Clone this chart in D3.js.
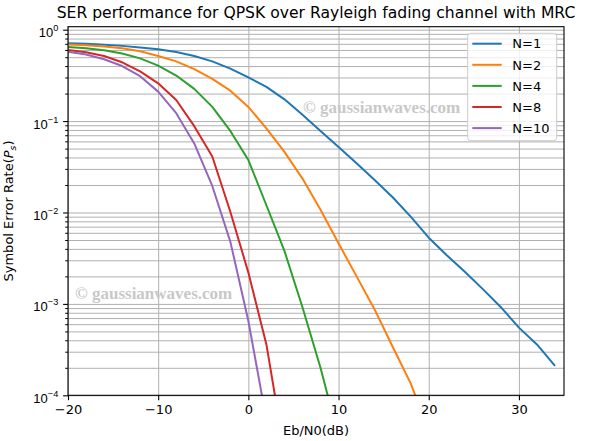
<!DOCTYPE html>
<html>
<head>
<meta charset="utf-8">
<script src="https://cdn.jsdelivr.net/npm/d3@7"></script>
<style>
  body { margin: 0; background: #fff; }
  svg { display: block; font-family: "DejaVu Sans", sans-serif; }
</style>
</head>
<body>
<div id="chart"></div>
<script>
// Eb/N0 points (dB)
const ebn0 = [-20, -18, -16, -14, -12, -10, -8, -6, -4, -2, 0, 2, 4, 6, 8, 10,
  12, 14, 16, 18, 20, 22, 24, 26, 28, 30, 32, 34];

// SER, one array per number of branches
const serN1 = [0.71, 0.70, 0.685, 0.665, 0.64, 0.61, 0.57, 0.515, 0.45, 0.375,
  0.30, 0.237, 0.173, 0.117, 0.078, 0.052, 0.0345, 0.0227, 0.0147, 0.009,
  0.0053, 0.0034, 0.00225, 0.00145, 0.00092, 0.00055, 0.00036, 0.00021];
const serN2 = [0.69, 0.675, 0.655, 0.625, 0.58, 0.515, 0.45, 0.37, 0.29, 0.215,
  0.143, 0.0834, 0.046, 0.0235, 0.0107, 0.0046, 0.0020, 0.00087, 0.00034,
  0.000135, 0.000041];
const serN4 = [0.645, 0.625, 0.595, 0.55, 0.485, 0.405, 0.315, 0.225, 0.143,
  0.078, 0.0375, 0.012, 0.0038, 0.00092, 0.0002, 0.000035];
const serN8 = [0.60, 0.565, 0.515, 0.44, 0.35, 0.259, 0.17, 0.088, 0.041,
  0.0102, 0.0022, 0.00036, 0.000024];
const serN10 = [0.575, 0.535, 0.475, 0.40, 0.31, 0.21, 0.122, 0.057, 0.0195,
  0.0048, 0.00065, 0.000054];

const seriesNames = ["N=1", "N=2", "N=4", "N=8", "N=10"];
const seriesValues = [serN1, serN2, serN4, serN8, serN10];
const seriesColors = ["#1f77b4", "#ff7f0e", "#2ca02c", "#d62728", "#9467bd"];

const xTicks = [-20, -10, 0, 10, 20, 30];
const yTicks = [1e-4, 1e-3, 1e-2, 1e-1, 1];
const yTickExp = ["\u22124", "\u22123", "\u22122", "\u22121", "0"];

const titleText = "SER performance for QPSK over Rayleigh fading channel with MRC";
const watermark = "\u00a9 gaussianwaves.com";

const fullWidth = 596;
const fullHeight = 441;
const margin = { top: 26.7, right: 32, bottom: 45.7, left: 68 };
const width = fullWidth - margin.left - margin.right;
const height = fullHeight - margin.top - margin.bottom;

const svgRoot = d3
  .select("#chart")
  .append("svg")
  .attr("width", fullWidth)
  .attr("height", fullHeight);

svgRoot.append("rect")
  .attr("width", fullWidth)
  .attr("height", fullHeight)
  .attr("fill", "#fff");

const svg = svgRoot.append("g")
  .attr("transform", `translate(${margin.left}, ${margin.top})`);

const xScale = d3.scaleLinear().domain([-20, 35]).range([0, width]);
const yScale = d3.scaleLog().domain([1e-4, 1.078]).range([height, 0]);

// minor ticks 2..9 in every decade
const minorTicks = [];
yTicks.slice(0, -1).forEach(d => {
  for (let k = 2; k <= 9; k++) minorTicks.push(k * d);
});

const gridColor = "#b0b0b0";

// grid: x major, y major + minor
svg.append("g")
  .attr("transform", `translate(0, ${height})`)
  .call(d3.axisBottom(xScale).tickValues(xTicks).tickSize(-height).tickFormat(""))
  .call(g => g.select(".domain").remove())
  .call(g => g.selectAll("line").attr("stroke", gridColor).attr("stroke-width", 1));

svg.append("g")
  .call(d3.axisLeft(yScale).tickValues(yTicks.concat(minorTicks)).tickSize(-width).tickFormat(""))
  .call(g => g.select(".domain").remove())
  .call(g => g.selectAll("line").attr("stroke", gridColor).attr("stroke-width", 1));

// watermarks
const wm = [[303, 113], [75, 299]];
svgRoot.selectAll("text.wm")
  .data(wm)
  .enter()
  .append("text")
  .attr("class", "wm")
  .attr("x", d => d[0])
  .attr("y", d => d[1])
  .attr("font-family", "'Liberation Serif', serif")
  .attr("font-weight", "bold")
  .attr("font-size", 17)
  .attr("fill", "#c8c8c8")
  .text(watermark);

// curves
svg.append("clipPath")
  .attr("id", "plotClip")
  .append("rect")
  .attr("width", width)
  .attr("height", height);

const line = d3.line()
  .x(d => xScale(d[0]))
  .y(d => yScale(d[1]));

svg.append("g")
  .attr("clip-path", "url(#plotClip)")
  .selectAll("path")
  .data(seriesValues)
  .enter()
  .append("path")
  .attr("fill", "none")
  .attr("stroke", (d, i) => seriesColors[i])
  .attr("stroke-width", 2)
  .attr("stroke-linejoin", "round")
  .attr("d", vals => line(vals.map((v, i) => [ebn0[i], v])));

// axes
const xAxis = svg.append("g")
  .attr("transform", `translate(0, ${height})`)
  .call(d3.axisBottom(xScale).tickValues(xTicks).tickSize(4.9).tickPadding(4.5));

const yAxis = svg.append("g")
  .call(d3.axisLeft(yScale).tickValues(yTicks).tickSize(4.9).tickFormat(""));

svg.append("g")
  .call(d3.axisLeft(yScale).tickValues(minorTicks).tickSize(2.8).tickFormat(""))
  .call(g => g.select(".domain").remove());

[xAxis, yAxis].forEach(g => {
  g.selectAll("text").attr("font-size", 13).attr("fill", "#000")
    .attr("font-family", "'DejaVu Sans', sans-serif");
  g.selectAll("line").attr("stroke", "#000").attr("stroke-width", 1.1);
  g.select(".domain").remove();
});

yAxis.selectAll(".tick").each(function (d, i) {
  const t = d3.select(this).append("text")
    .attr("x", -9.7)
    .attr("y", 7)
    .attr("text-anchor", "end")
    .attr("font-size", 13)
    .attr("fill", "#000");
  t.append("tspan").text("10");
  t.append("tspan").attr("dy", -6).attr("font-size", 9.2).text(yTickExp[i]);
});

// frame
svg.append("rect")
  .attr("width", width)
  .attr("height", height)
  .attr("fill", "none")
  .attr("stroke", "#000")
  .attr("stroke-width", 1.1);

// legend
const legend = svg.append("g").attr("transform", `translate(${467.7 - margin.left}, ${33.3 - margin.top})`);
legend.append("rect")
  .attr("width", 89)
  .attr("height", 107.4)
  .attr("rx", 3)
  .attr("fill", "#fff")
  .attr("fill-opacity", 0.8)
  .attr("stroke", "#cccccc")
  .attr("stroke-width", 1);

const entries = legend.selectAll("g.entry")
  .data(seriesNames)
  .enter()
  .append("g")
  .attr("class", "entry")
  .attr("transform", (d, i) => `translate(0, ${10.4 + i * 21.1})`);
entries.append("line")
  .attr("x1", 4.6).attr("x2", 34)
  .attr("stroke", (d, i) => seriesColors[i])
  .attr("stroke-width", 2);
entries.append("text")
  .attr("x", 44.6)
  .attr("y", 4.7)
  .attr("font-size", 13)
  .text(d => d);

// titles
svgRoot.append("text")
  .attr("x", margin.left + width / 2)
  .attr("y", 18)
  .attr("text-anchor", "middle")
  .attr("font-size", 15.6)
  .text(titleText);

svgRoot.append("text")
  .attr("x", margin.left + width / 2)
  .attr("y", 435)
  .attr("text-anchor", "middle")
  .attr("font-size", 13)
  .text("Eb/N0(dB)");

const ylab = svgRoot.append("text")
  .attr("transform", `translate(13.3, ${margin.top + height / 2}) rotate(-90)`)
  .attr("text-anchor", "middle")
  .attr("font-size", 13);
ylab.append("tspan").text("Symbol Error Rate(");
ylab.append("tspan").attr("font-style", "italic").text("P");
ylab.append("tspan").attr("font-style", "italic").attr("font-size", 9.2).attr("dy", 2.5).text("s");
ylab.append("tspan").attr("dy", -2.5).text(")");
</script>
</body>
</html>
